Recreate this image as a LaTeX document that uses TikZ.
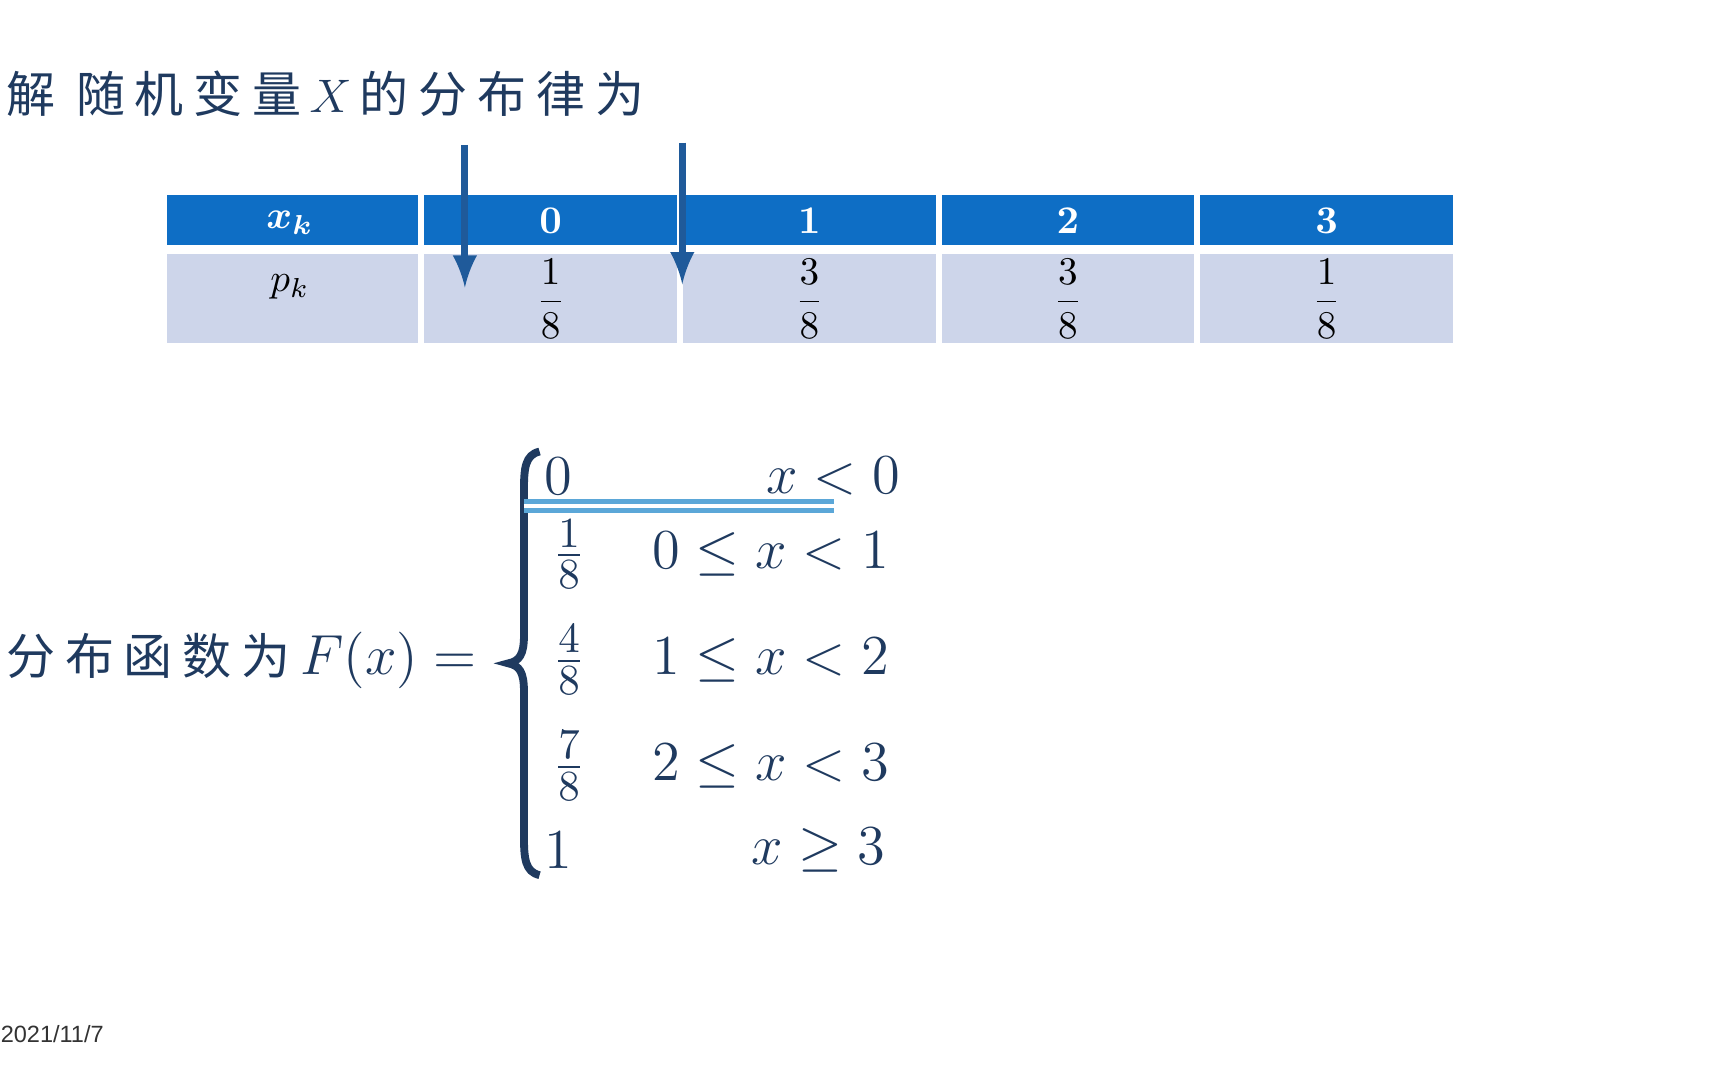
\documentclass[tikz,border=0pt]{standalone}
\usepackage{amsmath}
\usepackage{fontspec}
\newfontfamily\cjk[LetterSpace=20]{Noto Sans CJK SC}
\setsansfont{Liberation Sans}
\usetikzlibrary{positioning}
\definecolor{ink}{HTML}{1F3A5F}
\definecolor{headblue}{HTML}{0E6EC5}
\definecolor{bodyblue}{HTML}{CDD5EA}
\definecolor{arrowblue}{HTML}{1F5A9A}
\definecolor{lineblue}{HTML}{5BA7D8}
\tikzset{
  headcell/.style={fill=headblue, draw=white, line width=1.5pt},
  bodycell/.style={fill=bodyblue, draw=white, line width=1.5pt},
  celltext/.style={text=white, font=\bfseries\fontsize{10}{12}\selectfont},
  bodytext/.style={text=black, font=\fontsize{10}{12}\selectfont},
  rowtext/.style={text=ink, font=\fontsize{15}{18}\selectfont, inner sep=0pt},
}
\begin{document}
\begin{tikzpicture}[x=0.01cm, y=-0.01cm]
	\useasboundingbox (0,0) rectangle (1550,969);
	% title
	\node[anchor=west, text=ink, font=\fontsize{12.5}{15}\selectfont, inner sep=0pt] (title) at (5,84) {\cjk 解\ 随机变量\,$X$\,的分布律为};
	% table
	\foreach \i/\xv/\pv [count=\c from 0] in {0/0/\frac{1}{8},1/1/\frac{3}{8},2/2/\frac{3}{8},3/3/\frac{1}{8}} {
		\pgfmathsetmacro\xa{378+232*\c}
		\pgfmathsetmacro\xb{\xa+232}
		\draw[headcell] (\xa,172) rectangle (\xb,222);
		\draw[bodycell] (\xa,225) rectangle (\xb,310);
		\node[celltext] (head\i) at ({(\xa+\xb)/2},198) {$\boldsymbol{\xv}$};
		\node[bodytext] (prob\i) at ({(\xa+\xb)/2},268) {$\displaystyle\pv$};
	}
	\draw[headcell] (147,172) rectangle (378,222);
	\draw[bodycell] (147,225) rectangle (378,310);
	\node[celltext] (xk) at (260,200) {$\boldsymbol{x_k}$};
	\node[bodytext] (pk) at (260,257) {$p_k$};
	% arrows
	\coordinate (a1) at (417,130);
	\coordinate (b1) at (417,258);
	\coordinate (a2) at (612,128);
	\coordinate (b2) at (612,255);
	\draw[arrowblue, line width=1.8pt, -latex] (a1) -- (b1);
	\draw[arrowblue, line width=1.8pt, -latex] (a2) -- (b2);
	% distribution function
	\node[anchor=west, text=ink, font=\fontsize{12.5}{15}\selectfont, inner sep=0pt] (fx) at (5,592) {\cjk 分布函数为\fontsize{15}{18}\selectfont\,$F(x)=$};
	\draw[ink, line width=2pt] (484,405) .. controls (471,408) and (470,420) .. (470,440) -- (470,570)
		.. controls (470,587) and (466,593) .. (456,595) .. controls (466,597) and (470,603) .. (470,620)
		-- (470,750) .. controls (470,770) and (471,782) .. (484,785);
	\node[rowtext, anchor=west] (v0) at (488,427) {$0$};
	\node[rowtext, anchor=west] (v1) at (496,497) {$\frac{1}{8}$};
	\node[rowtext, anchor=west] (v2) at (496,592) {$\frac{4}{8}$};
	\node[rowtext, anchor=west] (v3) at (496,687) {$\frac{7}{8}$};
	\node[rowtext, anchor=west] (v4) at (488,763) {$1$};
	\node[rowtext, anchor=east] (c0) at (808,427) {$x<0$};
	\node[rowtext, anchor=east] (c1) at (798,497) {$0\le x<1$};
	\node[rowtext, anchor=east] (c2) at (798,592) {$1\le x<2$};
	\node[rowtext, anchor=east] (c3) at (798,687) {$2\le x<3$};
	\node[rowtext, anchor=east] (c4) at (795,763) {$x\ge3$};
	\coordinate (u1) at (470,454);
	\coordinate (u2) at (748,454);
	\draw[lineblue, double=white, double distance=1.2pt, line width=1.2pt] (u1) -- (u2);
	% date
	\node[anchor=west, inner sep=0pt, font=\sffamily\fontsize{6}{7}\selectfont, text=black!80] (date) at (0,928) {2021/11/7};
\end{tikzpicture}
\end{document}
